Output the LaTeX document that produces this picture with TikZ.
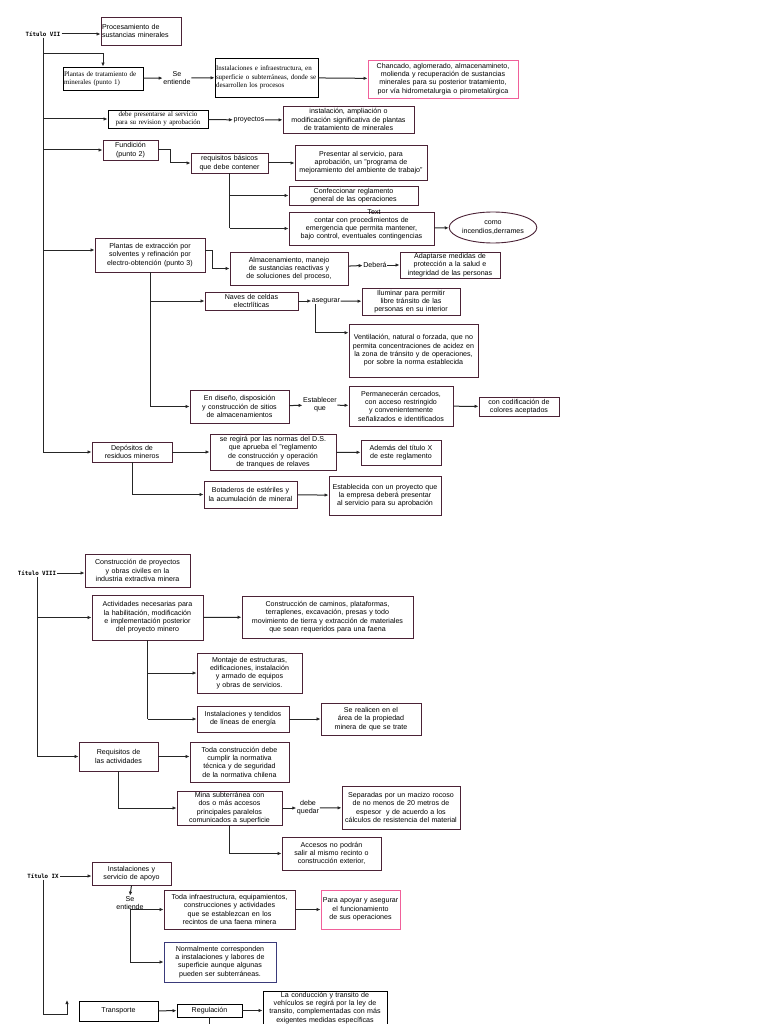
\documentclass[tikz,border=0pt]{standalone}
\usepackage{fontspec}
\setmainfont{Liberation Sans}
\newfontfamily\serifbox{Liberation Serif}
\newfontfamily\titlefont{DejaVu Sans Mono}
\usetikzlibrary{arrows.meta,positioning,calc,shapes.geometric}
\definecolor{maroon}{HTML}{4B2236}
\definecolor{rosa}{HTML}{F0609A}
\definecolor{azul}{HTML}{3A3A7A}
\hyphenpenalty=10000
\exhyphenpenalty=10000
\begin{document}
\begin{tikzpicture}[
    x=1pt, y=-1pt,
    box/.style={rectangle, draw=maroon, line width=0.9pt, fill=white, align=center, inner sep=0.5pt, font=\fontsize{7.1}{8.3}\selectfont},
    sbox/.style={box, draw=black, font=\serifbox\fontsize{7}{8.3}\selectfont},
    sz/.style 2 args={minimum width=#1pt, minimum height=#2pt, text width=#1pt-2pt},
    lbl/.style={align=center, inner sep=0.5pt, fill=white, font=\fontsize{7.1}{8.3}\selectfont},
    titulo/.style={font=\titlefont\bfseries\fontsize{5.8}{7}\selectfont, inner sep=1pt},
    ln/.style={line width=1pt, draw=black!85},
    arr/.style={ln, -{Latex[length=4pt,width=3.5pt]}}
]
    \useasboundingbox (0,0) rectangle (768,1024);
    \clip (0,0) rectangle (768,1024);

    % Titulo VII
    \node[titulo] (t7) at (43,34) {Título VII};
    \node[box, sz={80}{28}, align=left] (p1) at (141,31) {Procesamiento de sustancias minerales};
    \node[sbox, sz={80}{23}, align=left] (p2) at (103,78.5) {Plantas de tratamiento de minerales (punto 1)};
    \node[lbl] (s1) at (177,78) {Se\\entiende};
    \node[sbox, sz={103}{39}, align=left] (p3) at (266.5,77.5) {Instalaciones e infraestructura, en superficie o subterráneas, donde se desarrollen los procesos};
    \node[box, sz={150}{38}, draw=rosa] (p4) at (443,79) {Chancado, aglomerado, almacenamineto, molienda y recuperación de sustancias minerales para su posterior tratamiento, por vía hidrometalurgia o pirometalúrgica};
    \node[sbox, sz={100}{18}] (p5) at (158,119) {debe presentarse al servicio para su revision y aprobación};
    \node[lbl] (s2) at (249,120) {proyectos};
    \node[box, sz={131}{27}] (p6) at (348.5,119.5) {instalación, ampliación o modificación significativa de plantas de tratamiento de minerales};
    \node[box, sz={55}{20}] (p7) at (130.5,150) {Fundición\\(punto 2)};
    \node[box, sz={77}{20}] (p8) at (229.5,163) {requisitos básicos que debe contener};
    \node[box, sz={132}{35}] (p9) at (361,162.5) {Presentar al servicio, para aprobación, un "programa de mejoramiento del ambiente de trabajo"};
    \node[box, sz={129}{19}] (p10) at (353.5,195.5) {Confeccionar reglamento general de las operaciones};
    \node[box, sz={145}{33}] (p11) at (361.5,228.5) {contar con procedimientos de emergencia que permita mantener, bajo control, eventuales contingencias};
    \node[lbl, fill=none] (s3) at (374,212) {Text};
    \node[ellipse, draw=maroon, line width=0.9pt, minimum width=80pt, minimum height=31pt, inner sep=0pt, align=center, font=\fontsize{7.1}{8.3}\selectfont] (p12) at (493,227.5) {como\\incendios,derrames};
    \node[box, sz={110}{34}] (p13) at (150,255) {Plantas de extracción por solventes y refinación por electro-obtención (punto 3)};
    \node[box, sz={118}{33}] (p14) at (289,268.5) {Almacenamiento, manejo de sustancias reactivas y de soluciones del proceso,};
    \node[lbl] (s4) at (375,265) {Deberá};
    \node[box, sz={100}{26}] (p15) at (450,265) {Adaptarse medidas de protección a la salud e integridad de las personas};
    \node[box, sz={93}{18}] (p16) at (251.5,301) {Naves de celdas\\electrlíticas};
    \node[lbl] (s5) at (326,301) {asegurar};
    \node[box, sz={98}{27}] (p17) at (411,301.5) {Iluminar para permitir libre tránsito de las personas en su interior};
    \node[box, sz={129}{53}] (p18) at (413.5,350.5) {Ventilación, natural o forzada, que no permita concentraciones de acidez en la zona de tránsito y de operaciones, por sobre la norma establecida};
    \node[box, sz={99}{33}] (p19) at (239.5,406.5) {En diseño, disposición y construcción de sitios de almacenamientos};
    \node[lbl] (s6) at (320,405) {Establecer\\que};
    \node[box, sz={104}{40}] (p20) at (401,406) {Permanecerán cercados, con acceso restringido y convenientemente señalizados e identificados};
    \node[box, sz={80}{19}] (p21) at (519,406.5) {con codificación de colores aceptados};
    \node[box, sz={80}{20}] (p22) at (132,452) {Depósitos de residuos mineros};
    \node[box, sz={126}{36}] (p23) at (273,452) {se regirá por las normas del D.S. que aprueba el "reglamento de construcción y operación de tranques de relaves};
    \node[box, sz={80}{25}] (p24) at (401,452.5) {Además del título X de este reglamento};
    \node[box, sz={93}{27}] (p25) at (250.5,494.5) {Botaderos de estériles y la acumulación de mineral};
    \node[box, sz={112}{39}] (p26) at (385,495.5) {Establecida con un proyecto que la empresa deberá presentar al servicio para su aprobación};

    \coordinate (k2) at (103,54);
    \draw[arr] (t7.east) -- (p1.west |- t7.east);
    \draw[ln] (t7.south) -- (t7.south |- p22.west);
    \draw[arr] (t7.south |- k2) -- (k2) -- (p2.north);
    \draw[arr] (t7.south |- p5.west) -- (p5.west);
    \draw[arr] (t7.south |- p7.west) -- (p7.west);
    \draw[arr] (t7.south |- 0,250) -- (p13.west |- 0,250);
    \draw[arr] (t7.south |- p22.west) -- (p22.west);
    \draw[arr] (p2) -- (s1);
    \draw[arr] (s1) -- (p3);
    \draw[arr] (p3) -- (p4);
    \draw[arr] (p5) -- (s2);
    \draw[arr] (s2) -- (p6);
    \draw[arr] (p7.east) -- ++(12,0) |- (p8.west);
    \draw[arr] (p8.east) -- (p9.west |- p8.east);
    \draw[ln] (p8.south) -- (p8.south |- p11.west);
    \draw[arr] (p8.south |- p10.west) -- (p10.west);
    \draw[arr] (p8.south |- p11.west) -- (p11.west);
    \draw[arr] (p11) -- (p12);
    \draw[arr] (p13.east |- 0,250) -- ++(7,0) |- (p14.west);
    \draw[arr] (p14) -- (s4);
    \draw[arr] (s4) -- (p15);
    \draw[ln] (p13.south) -- (p13.south |- p19.west);
    \draw[arr] (p13.south |- p16.west) -- (p16.west);
    \draw[arr] (p13.south |- p19.west) -- (p19.west);
    \draw[arr] (p16) -- (s5);
    \draw[arr] (s5) -- (p17);
    \draw[arr] (s5.south west) ++(4,0) |- ($(p18.north west)!0.17!(p18.south west)$);
    \draw[arr] (p19) -- (s6);
    \draw[arr] (s6) -- (p20);
    \draw[arr] (p20) -- (p21);
    \draw[arr] (p22) -- (p23);
    \draw[arr] (p23) -- (p24);
    \draw[arr] (p22.south) |- (p25.west);
    \draw[arr] (p25) -- (p26);

    % Titulo VIII
    \node[titulo] (t8) at (37,573) {Título VIII};
    \node[box, sz={105}{33}] (q1) at (137.5,570.5) {Construcción de proyectos y obras civiles en la industria extractiva minera};
    \node[box, sz={111}{45}] (q2) at (147.5,617.5) {Actividades necesarias para la habilitación, modificación e implementación posterior del proyecto minero};
    \node[box, sz={171}{42}] (q3) at (327.5,617) {Construcción de caminos, plataformas, terraplenes, excavación, presas y todo movimiento de tierra y extracción de materiales que sean requeridos para una faena};
    \node[box, sz={105}{40}] (q4) at (249.5,673) {Montaje de estructuras, edificaciones, instalación y armado de equipos y obras de servicios.};
    \node[box, sz={92}{26}] (q5) at (243,719) {Instalaciones y tendidos de líneas de energía};
    \node[box, sz={100}{32}] (q6) at (371,719) {Se realicen en el área de la propiedad minera de que se trate};
    \node[box, sz={79}{29}] (q7) at (118.5,756.5) {Requisitos de las actividades};
    \node[box, sz={99}{40}] (q8) at (239.5,762) {Toda construcción debe cumplir la normativa técnica y de seguridad de la normativa chilena};
    \node[box, sz={105}{34}] (q9) at (229.5,808) {Mina subterránea con dos o más accesos principales paralelos comunicados a superficie};
    \node[lbl] (s7) at (308,808) {debe\\quedar};
    \node[box, sz={118}{43}] (q10) at (401,807.5) {Separadas por un macizo rocoso de no menos de 20 metros de espesor~ y de acuerdo a los cálculos de resistencia del material};
    \node[box, sz={99}{33}] (q11) at (331.5,853.5) {Accesos no podrán salir al mismo recinto o construcción exterior,};

    \draw[arr] (t8.east) -- (q1.west |- t8.east);
    \draw[ln] (t8.south) -- (t8.south |- q7.west);
    \draw[arr] (t8.south |- q2.west) -- (q2.west);
    \draw[arr] (t8.south |- q7.west) -- (q7.west);
    \draw[arr] (q2) -- (q3);
    \draw[ln] (q2.south) -- (q2.south |- q5.west);
    \draw[arr] (q2.south |- q4.west) -- (q4.west);
    \draw[arr] (q2.south |- q5.west) -- (q5.west);
    \draw[arr] (q5) -- (q6);
    \draw[arr] (q7.east) -- (q8.west |- q7.east);
    \draw[arr] (q7.south) |- (q9.west);
    \draw[arr] (q9) -- (s7);
    \draw[arr] (s7) -- (q10);
    \draw[arr] (q9.south) |- (q11.west);

    % Titulo IX
    \node[titulo] (t9) at (43,876) {Título IX};
    \node[box, sz={79}{23}] (r1) at (131.5,873.5) {Instalaciones y servicio de apoyo};
    \node[lbl] (s8) at (130,903) {Se\\entiende};
    \node[box, sz={131}{39}] (r2) at (229.5,909.5) {Toda infraestructura, equipamientos, construcciones y actividades que se establezcan en los recintos de una faena minera};
    \node[box, sz={79}{39}, draw=rosa] (r3) at (360.5,909.5) {Para apoyar y asegurar el funcionamiento de sus operaciones};
    \node[box, sz={112}{40}, draw=azul] (r4) at (220,962) {Normalmente corresponden a instalaciones y labores de superficie aunque algunas pueden ser subterráneas.};
    \node[box, sz={79}{20}, draw=black] (r5) at (118.5,1011) {Transporte};
    \node[box, sz={65}{13}, draw=black] (r6) at (209.5,1010.5) {Regulación};
    \node[box, text width=122pt, minimum width=124pt, anchor=north, draw=black] (r7) at (325,991) {La conducción y transito de vehículos se regirá por la ley de transito, complementadas con más exigentes medidas específicas};

    \coordinate (k9) at (67,1000);
    \coordinate (k9b) at (67,1014);
    \draw[arr] (t9.east) -- (r1.west |- t9.east);
    \draw[arr] (t9.south) |- (k9b) -- (k9);
    \draw[arr] (r1.south) -- (s8.north);
    \draw[arr] (s8.south) |- (r2.west);
    \draw[arr] (s8.south) |- (r4.west);
    \draw[arr] (r2) -- (r3);
    \draw[arr] (r5) -- (r6);
    \draw[arr] (r6) -- (r7.west |- r6.east);
    \draw[ln] (r6.south) -- ++(0,12);
\end{tikzpicture}
\end{document}
